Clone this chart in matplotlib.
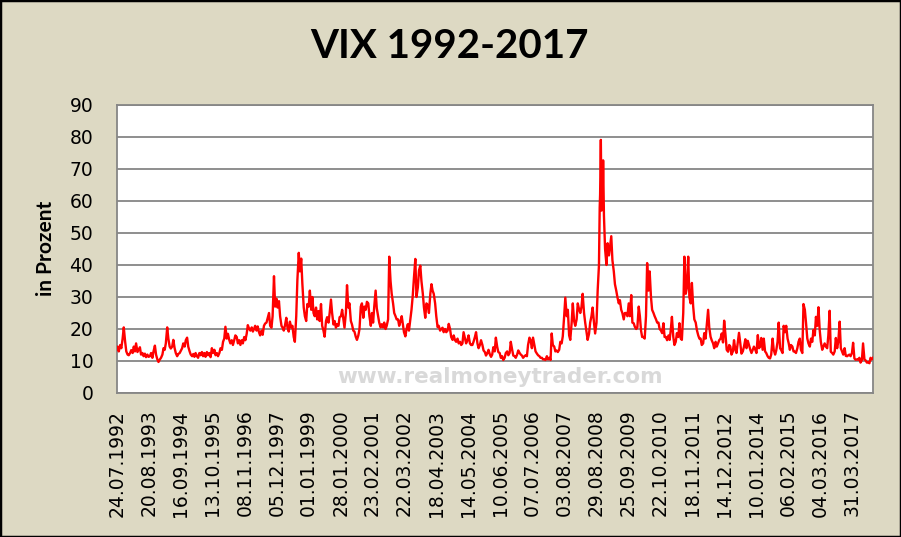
import numpy as np
import pandas as pd
import matplotlib
matplotlib.use("Agg")
import matplotlib.pyplot as plt
import matplotlib.transforms as mtransforms
from matplotlib.patches import Rectangle

title = "VIX 1992-2017"
y_label = "in Prozent"
watermark = "www.realmoneytrader.com"
x_tick_labels = ["24.07.1992", "20.08.1993", "16.09.1994", "13.10.1995", "08.11.1996",
                 "05.12.1997", "01.01.1999", "28.01.2000", "23.02.2001", "22.03.2002",
                 "18.04.2003", "14.05.2004", "10.06.2005", "07.07.2006", "03.08.2007",
                 "29.08.2008", "25.09.2009", "22.10.2010", "18.11.2011", "14.12.2012",
                 "10.01.2014", "06.02.2015", "04.03.2016", "31.03.2017"]
y_ticks = [0, 10, 20, 30, 40, 50, 60, 70, 80, 90]

start_date = "1992-07-24"
end_date = "2017-12-15"

# semi-monthly readings (1st and 15th of each month); 1992 begins with 24.07.
v1992 = [13.5, 14.5, 13, 15, 14, 17, 20.5, 16, 13, 12, 11.8]
v1993 = [12.5, 13.4, 12.5, 14.5, 13, 15.5, 12.8, 13.5, 14.3, 12, 12.5, 11.5,
         12.3, 11.2, 12, 11.3, 11.5, 12.5, 11, 13, 14.8, 12, 10.5, 9.7]
v1994 = [10.5, 11, 12, 14, 13.5, 15.5, 20.5, 17, 14.5, 13.9, 14.5, 16.6,
         14, 12.5, 11.5, 12.2, 12.5, 13.2, 14, 15.5, 14.5, 16.5, 17.3, 14.5]
v1995 = [13, 12, 11.5, 12.2, 11.3, 12.5, 11.5, 11, 12.5, 11.8, 12.8, 11.5,
         12.5, 11.3, 12.8, 11.8, 12.5, 11.2, 14, 12.5, 13.5, 11.8, 12.5, 11.5]
v1996 = [12.5, 14, 13.5, 16, 17, 20.7, 17, 18.5, 16.6, 15.5, 16.5, 15,
         16.5, 18, 17.5, 15.5, 16.5, 15, 16.5, 15.5, 17.5, 16.5, 18.5, 21.2]
v1997 = [20, 19.5, 20.5, 19.2, 20, 21, 19.5, 20.8, 19, 18, 19.5, 18.2,
         21, 21.7, 22, 23.3, 25, 21, 20.4, 24, 36.5, 27, 29.5, 26.7]
v1998 = [28.7, 24, 21, 20.4, 19.5, 21, 23.5, 20.5, 19.2, 22.3, 20.5, 21,
         17.5, 16, 24, 35.3, 43.8, 38, 42, 34.2, 26.7, 24, 22.5, 27.8]
v1999 = [27, 32, 26, 30, 25, 24, 26.7, 23, 25.6, 22.5, 27.8, 21,
         19.5, 17.6, 22.5, 23.7, 22, 25, 29.2, 25, 21.4, 22.5, 20.4, 21.5]
v2000 = [21, 23.7, 24, 26, 23, 20.4, 25, 33.7, 26.7, 28, 22.5, 21.4,
         19.5, 19.2, 17.5, 16.6, 18, 20, 27, 28, 23.5, 27, 26, 28.5]
v2001 = [28, 24, 21, 25, 22, 27, 32, 26.5, 24, 22, 20.5, 21.5,
         20.5, 22, 20, 21, 23, 42.6, 35, 31, 28, 25, 24, 23]
v2002 = [23, 21, 22.5, 24, 21.5, 19, 17.7, 20, 21.5, 19.5, 23, 26,
         30.6, 36, 41.9, 30, 33, 38.3, 39.8, 35, 31, 26.7, 23.5, 28]
v2003 = [27.5, 25, 31, 34, 32, 31, 28, 24, 20.6, 21, 19.5, 20,
         20.4, 19, 20, 19, 19.5, 21.6, 20, 17.5, 16.6, 18, 16.5, 16]
v2004 = [17, 15.5, 16, 15, 15.5, 19, 17, 15.5, 16.5, 18, 15.5, 15,
         15, 16, 17.5, 19, 15.5, 14, 15, 16.5, 15, 13.3, 12.8, 11.7]
v2005 = [12.5, 13.5, 12, 11.3, 12, 14.3, 13, 17.3, 14.5, 12.8, 12.5, 11,
         11.5, 10.3, 11, 12.5, 13, 11.8, 12.5, 16, 13.5, 11.7, 11.5, 11]
v2006 = [12, 13.3, 12.5, 12, 11.7, 11, 11.5, 11.8, 11.5, 15, 17.3, 16.5,
         14, 17.3, 15, 13, 12.3, 11.8, 11.5, 11, 11, 10.5, 10.5, 10.3]
v2007 = [11.5, 10.5, 11, 10.3, 18.6, 15, 14.5, 13, 13.3, 12.8, 13.5, 16,
         15.5, 17.7, 24, 29.8, 24, 26, 18, 16.6, 22, 28, 22.5, 21]
v2008 = [23, 28, 26, 25, 27, 31, 25, 22, 19, 16.6, 18.5, 22,
         24, 26.7, 22, 18.6, 22, 32, 40, 62, 57, 60, 55.5, 45]
v2009 = [40, 46.8, 43, 46, 49, 41.5, 38, 34, 32, 30, 28, 29,
         26, 25, 23, 25, 25, 24, 28, 24, 30.6, 22, 21.8, 20.7]
v2010 = [20, 20.5, 27, 24, 19.5, 17.5, 17.5, 17, 24, 40.6, 32, 38,
         30, 26, 25, 24, 23, 22, 22, 20, 19.5, 18.7, 21.8, 17.5]
v2011 = [17.5, 16.5, 18, 16.6, 19.7, 23.8, 17.5, 15, 16, 18.7, 17.5, 21.8,
         17, 16.6, 25, 42.6, 31, 33, 42.6, 30, 28, 34.4, 27, 23]
v2012 = [22, 19.7, 18, 17, 17, 15, 15.5, 18.7, 17, 21, 26, 20.5,
         17.6, 16.5, 15.5, 14, 16, 14.5, 15.5, 16.5, 17, 18.6, 15.8, 22.6]
v2013 = [18, 13.5, 12.9, 15, 14.5, 12, 13, 16.5, 13.5, 12.5, 16, 18.8,
         15.5, 12.3, 13, 14.5, 16.8, 14, 16.3, 15, 13.5, 12.5, 13.5, 14.5]
v2014 = [13.5, 12.5, 18.1, 14, 14.5, 17.2, 13.5, 17, 13, 12.5, 11.5, 11,
         10.8, 12, 17, 13.5, 12, 13.3, 16, 22, 14, 13.4, 12.5, 21]
v2015 = [19, 21, 17, 15.5, 13.5, 15, 14.5, 13, 12.9, 12.5, 14, 16,
         17, 13.5, 12.5, 27.8, 26, 22, 17, 15.5, 14.5, 17, 16, 19.7]
v2016 = [18, 23.8, 21, 26.8, 19.7, 16, 13.5, 14.5, 15.5, 14.5, 14, 18,
         25.7, 12.9, 12.5, 12, 13, 17.2, 14, 16, 22.3, 14, 12.9, 12]
v2017 = [14, 11.6, 11.5, 11.8, 12, 11.5, 12.5, 15.7, 10.8, 10.4, 10.5, 10.4,
         11, 9.5, 10.3, 15.5, 10.5, 10.2, 9.5, 9.6, 9.3, 11, 10.5, 11]

# extra readings at the sharp 2008 peaks
spike_dates = ["2008-10-10", "2008-10-24", "2008-11-21"]
spike_values = [58, 79.1, 72.7]

years = [v1992, v1993, v1994, v1995, v1996, v1997, v1998, v1999, v2000, v2001,
         v2002, v2003, v2004, v2005, v2006, v2007, v2008, v2009, v2010, v2011,
         v2012, v2013, v2014, v2015, v2016, v2017]
base_vals = [v for y in years for v in y]
base_dates = [pd.Timestamp(start_date)] + list(pd.date_range("1992-08-01", end_date, freq="SMS"))
assert len(base_dates) == len(base_vals), (len(base_dates), len(base_vals))

s = pd.Series(base_vals, index=pd.DatetimeIndex(base_dates))
s = pd.concat([s, pd.Series(spike_values, index=pd.to_datetime(spike_dates))]).sort_index()

W, H = 901, 537
bg = "#DDD9C3"
fig = plt.figure(figsize=(W / 100, H / 100), dpi=100, facecolor=bg)
ax = fig.add_axes([117 / W, 1 - 393 / H, (873 - 117) / W, (393 - 105) / H])
ax.set_facecolor("white")

ax.plot(s.index, s.values, color="#FF0000", lw=1.7, zorder=3)

ax.set_ylim(0, 90)
ax.set_yticks(y_ticks)
ax.set_xlim(pd.Timestamp(start_date), pd.Timestamp(end_date))
tick_pos = pd.to_datetime(x_tick_labels, format="%d.%m.%Y")
ax.set_xticks(tick_pos)
ax.set_xticklabels(x_tick_labels, rotation=90, fontsize=13.5, family="DejaVu Sans")
shift = mtransforms.ScaledTranslation(3 / 100, 0, fig.dpi_scale_trans)
for lab in ax.get_xticklabels():
    lab.set_transform(lab.get_transform() + shift)
for lab in ax.get_yticklabels():
    lab.set_fontsize(13.5)
    lab.set_family("DejaVu Sans")
ax.tick_params(axis="both", length=0)
ax.tick_params(axis="y", pad=17)
ax.tick_params(axis="x", pad=12)
ax.yaxis.grid(True, color="#868686", lw=1.3)
ax.set_axisbelow(True)
for sp in ax.spines.values():
    sp.set_color("#868686")
    sp.set_linewidth(1.3)

ax.text(0.507, 5, watermark, transform=ax.get_yaxis_transform(),
        fontsize=15.5, fontweight="bold", color="#D9D9D9", ha="center", va="center",
        family="DejaVu Sans", zorder=2)

fig.text(449 / W, 1 - 46 / H, title, ha="center", va="center", fontsize=29,
         fontweight="bold", family="Lato")
fig.text(46 / W, 1 - 248 / H, y_label, ha="center", va="center", rotation=90,
         fontsize=15, fontweight="bold", family="Lato")

fig.patches.append(Rectangle((0, 0), 1, 1, transform=fig.transFigure, fill=False,
                             edgecolor="black", lw=2.5))

fig.savefig("out.png", dpi=100, facecolor=bg)
